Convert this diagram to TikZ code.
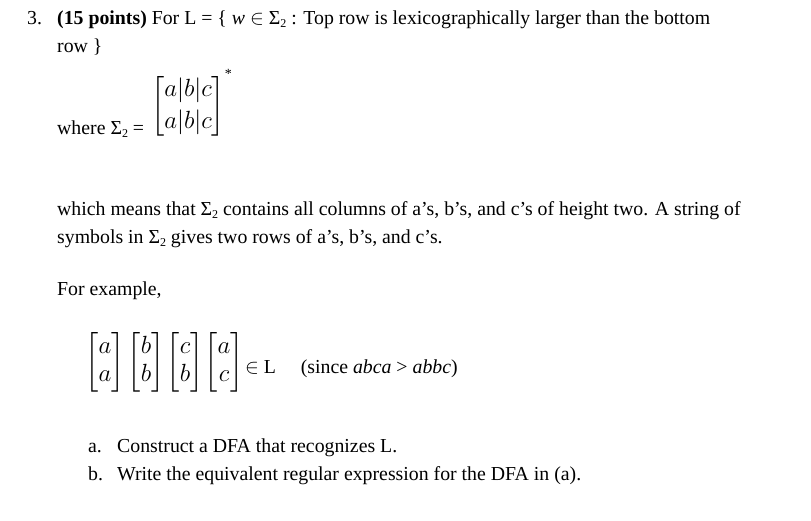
\documentclass[tikz,border=0pt]{standalone}
\usepackage{amsmath}
\usepackage{fontspec}
\setmainfont{Liberation Serif}
\newcommand{\sub}[1]{\raisebox{-3pt}{\fontsize{12}{12}\selectfont #1}}
\begin{document}
\begin{tikzpicture}[x=1pt,y=-1pt,
  txt/.style={anchor=base west,inner sep=0pt,font=\fontsize{19.8}{22}\selectfont},
  mat/.style={inner sep=0pt,font=\fontsize{28}{32}\selectfont},
  col/.style={inner sep=0pt,font=\fontsize{24}{28}\selectfont}]
\useasboundingbox[fill=white] (0,0) rectangle (811,521);
\node[txt] (n3) at (27,25) {3.};
\node[txt] (l1) at (57,25) {\textbf{(15 points)} For L = \{ \textit{w} $\in$ Σ\sub{2} : Top row is lexicographically larger than the bottom};
\node[txt] (l2) at (57,53) {row \}};
\node[txt] (l3) at (57,135) {where Σ\sub{2} =};
\node[mat,anchor=west] (m1) at (151,104) {$\setlength\arraycolsep{3pt}\begin{bmatrix} a|b|c\\ a|b|c\end{bmatrix}^{\raisebox{4pt}{\fontsize{14}{14}\selectfont *}}$};
\node[txt] (l4) at (57,216) {which means that Σ\sub{2} contains all columns of a’s, b’s, and c’s of height two. A string of};
\node[txt] (l5) at (57,244) {symbols in Σ\sub{2} gives two rows of a’s, b’s, and c’s.};
\node[txt] (l6) at (57,296) {For example,};
\node[col] (c1) at (105,362) {$\setlength\arraycolsep{2pt}\begin{bmatrix} a\\ a\end{bmatrix}$};
\node[col] (c2) at (146,362) {$\setlength\arraycolsep{2pt}\begin{bmatrix} b\\ b\end{bmatrix}$};
\node[col] (c3) at (185,362) {$\setlength\arraycolsep{2pt}\begin{bmatrix} c\\ b\end{bmatrix}$};
\node[col] (c4) at (224,362) {$\setlength\arraycolsep{2pt}\begin{bmatrix} a\\ c\end{bmatrix}$};
\node[txt] (l7) at (245,373) {$\in$ L\quad\ (since \textit{abca} > \textit{abbc})};
\node[txt] (a) at (88,452) {a.};
\node[txt] (at) at (117,452) {Construct a DFA that recognizes L.};
\node[txt] (b) at (88,480) {b.};
\node[txt] (bt) at (117,480) {Write the equivalent regular expression for the DFA in (a).};
\end{tikzpicture}
\end{document}
